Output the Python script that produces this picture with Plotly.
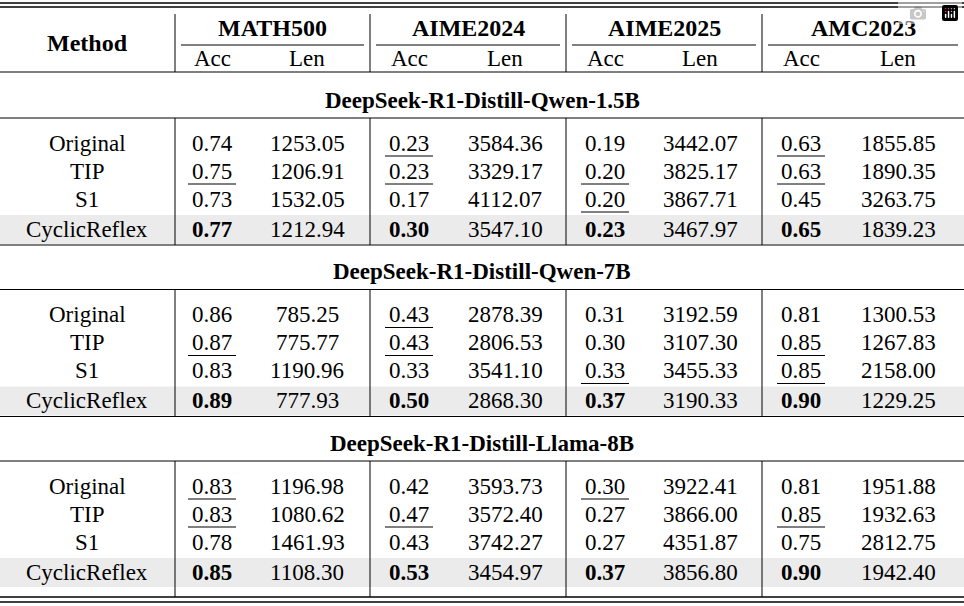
import plotly.graph_objects as go

datasets = ["MATH500", "AIME2024", "AIME2025", "AMC2023"]
sections = ["DeepSeek-R1-Distill-Qwen-1.5B", "DeepSeek-R1-Distill-Qwen-7B", "DeepSeek-R1-Distill-Llama-8B"]
methods = ["Original", "TIP", "S1", "CyclicReflex"]
acc = [
    [[0.74, 0.23, 0.19, 0.63], [0.75, 0.23, 0.20, 0.63], [0.73, 0.17, 0.20, 0.45], [0.77, 0.30, 0.23, 0.65]],
    [[0.86, 0.43, 0.31, 0.81], [0.87, 0.43, 0.30, 0.85], [0.83, 0.33, 0.33, 0.85], [0.89, 0.50, 0.37, 0.90]],
    [[0.83, 0.42, 0.30, 0.81], [0.83, 0.47, 0.27, 0.85], [0.78, 0.43, 0.27, 0.75], [0.85, 0.53, 0.37, 0.90]],
]
length = [
    [[1253.05, 3584.36, 3442.07, 1855.85], [1206.91, 3329.17, 3825.17, 1890.35], [1532.05, 4112.07, 3867.71, 3263.75], [1212.94, 3547.10, 3467.97, 1839.23]],
    [[785.25, 2878.39, 3192.59, 1300.53], [775.77, 2806.53, 3107.30, 1267.83], [1190.96, 3541.10, 3455.33, 2158.00], [777.93, 2868.30, 3190.33, 1229.25]],
    [[1196.98, 3593.73, 3922.41, 1951.88], [1080.62, 3572.40, 3866.00, 1932.63], [1461.93, 3742.27, 4351.87, 2812.75], [1108.30, 3454.97, 3856.80, 1942.40]],
]

FONT = "Liberation Serif"
FS = 23
W, H = 964, 606
fig = go.Figure()
shapes, ann = [], []

def line(x0, y0, x1, y1, w=1.2):
    shapes.append(dict(type="line", x0=x0, y0=y0, x1=x1, y1=y1, line=dict(color="black", width=w)))

def text(x, y, t, size=FS):
    ann.append(dict(x=x, y=y, text=t, showarrow=False, font=dict(family=FONT, size=size, color="black"),
                    xanchor="center", yanchor="middle"))

vx = [175, 370, 566, 762]
acc_x = [212, 409, 605, 801]
len_x = [307, 505, 700, 898]
mx = 87

line(0, 3, W, 3, 1.5); line(0, 7, W, 7, 1.5)
line(0, 597, W, 597, 1.5); line(0, 602, W, 602, 1.5)

text(mx, 43, "<b>Method</b>", 24)
for i, d in enumerate(datasets):
    x0 = vx[i]
    x1 = vx[i + 1] if i + 1 < len(vx) else W
    text((x0 + x1) / 2, 28, f"<b>{d}</b>", 24)
    line(x0 + 6, 45, x1 - 6, 45, 1)
    text(acc_x[i], 58, "Acc")
    text(len_x[i], 58, "Len")
for x in vx:
    line(x, 14, x, 72, 1)
line(0, 72, W, 72, 1.2)

for s, sec in enumerate(sections):
    ty = 100 + 171.5 * s
    text(W / 2, ty, f"<b>{sec}</b>", 23)
    top = ty + 18
    bottom = ty + 145 if s < len(sections) - 1 else 597
    line(0, top, W, top, 1.2)
    if s < len(sections) - 1:
        line(0, bottom, W, bottom, 1.2)
    shapes.append(dict(type="rect", x0=0, x1=W, y0=ty + 115, y1=ty + 144, fillcolor="#ebebeb",
                       line=dict(width=0), layer="below"))
    for x in vx:
        line(x, top, x, bottom, 1)
    for r, m in enumerate(methods):
        ry = ty + 43 + r * 28 + (2 if r == 3 else 0)
        text(mx, ry, m)
        for c in range(len(datasets)):
            col = [acc[s][k][c] for k in range(len(methods))]
            vals = sorted(set(col), reverse=True)
            v = acc[s][r][c]
            t = f"{v:.2f}"
            if v == vals[0]:
                t = f"<b>{t}</b>"
            elif len(vals) > 1 and v == vals[1]:
                line(acc_x[c] - 24, ry + 13, acc_x[c] + 24, ry + 13, 1)
            text(acc_x[c], ry, t)
            text(len_x[c], ry, f"{length[s][r][c]:.2f}")

fig.update_layout(width=W, height=H, margin=dict(l=0, r=0, t=0, b=0), plot_bgcolor="white",
                  paper_bgcolor="white", shapes=shapes, annotations=ann,
                  xaxis=dict(range=[0, W], visible=False, fixedrange=True),
                  yaxis=dict(range=[H, 0], visible=False, fixedrange=True), showlegend=False)
fig.write_html("out.html", post_script="document.body.style.margin='0px';document.body.style.overflow='hidden';")
